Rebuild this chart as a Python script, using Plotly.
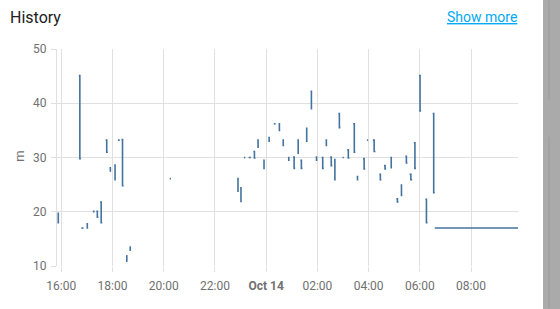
import plotly.graph_objects as go

# ---- data ----
seg_start = [
    "2023-10-13 15:51", "2023-10-13 16:41", "2023-10-13 16:47", "2023-10-13 16:59",
    "2023-10-13 17:14", "2023-10-13 17:22", "2023-10-13 17:31", "2023-10-13 17:44",
    "2023-10-13 17:53", "2023-10-13 18:04", "2023-10-13 18:13", "2023-10-13 18:21",
    "2023-10-13 18:32", "2023-10-13 18:40", "2023-10-13 20:14", "2023-10-13 22:52",
    "2023-10-13 22:59", "2023-10-13 23:08", "2023-10-13 23:19", "2023-10-13 23:30",
    "2023-10-13 23:39", "2023-10-13 23:53", "2023-10-14 00:05", "2023-10-14 00:18",
    "2023-10-14 00:29", "2023-10-14 00:38", "2023-10-14 00:51", "2023-10-14 01:03",
    "2023-10-14 01:13", "2023-10-14 01:20", "2023-10-14 01:33", "2023-10-14 01:44",
    "2023-10-14 01:56", "2023-10-14 02:10", "2023-10-14 02:19", "2023-10-14 02:30",
    "2023-10-14 02:39", "2023-10-14 02:49", "2023-10-14 02:59", "2023-10-14 03:10",
    "2023-10-14 03:24", "2023-10-14 03:32", "2023-10-14 03:47", "2023-10-14 03:56",
    "2023-10-14 04:10", "2023-10-14 04:25", "2023-10-14 04:36", "2023-10-14 04:51",
    "2023-10-14 05:05", "2023-10-14 05:15", "2023-10-14 05:26", "2023-10-14 05:36",
    "2023-10-14 05:46", "2023-10-14 05:58", "2023-10-14 06:13", "2023-10-14 06:30",
    "2023-10-14 06:35",
]
seg_end = [
    "2023-10-13 15:55", "2023-10-13 16:46", "2023-10-13 16:52", "2023-10-13 17:03",
    "2023-10-13 17:18", "2023-10-13 17:27", "2023-10-13 17:36", "2023-10-13 17:49",
    "2023-10-13 17:57", "2023-10-13 18:08", "2023-10-13 18:17", "2023-10-13 18:26",
    "2023-10-13 18:35", "2023-10-13 18:43", "2023-10-13 20:17", "2023-10-13 22:56",
    "2023-10-13 23:03", "2023-10-13 23:11", "2023-10-13 23:24", "2023-10-13 23:35",
    "2023-10-13 23:43", "2023-10-13 23:57", "2023-10-14 00:09", "2023-10-14 00:22",
    "2023-10-14 00:33", "2023-10-14 00:42", "2023-10-14 00:55", "2023-10-14 01:08",
    "2023-10-14 01:17", "2023-10-14 01:25", "2023-10-14 01:37", "2023-10-14 01:48",
    "2023-10-14 02:00", "2023-10-14 02:15", "2023-10-14 02:23", "2023-10-14 02:35",
    "2023-10-14 02:43", "2023-10-14 02:54", "2023-10-14 03:02", "2023-10-14 03:15",
    "2023-10-14 03:29", "2023-10-14 03:36", "2023-10-14 03:52", "2023-10-14 03:59",
    "2023-10-14 04:16", "2023-10-14 04:30", "2023-10-14 04:41", "2023-10-14 04:55",
    "2023-10-14 05:10", "2023-10-14 05:19", "2023-10-14 05:31", "2023-10-14 05:42",
    "2023-10-14 05:51", "2023-10-14 06:03", "2023-10-14 06:18", "2023-10-14 06:35",
    "2023-10-14 09:50",
]
seg_from = [
    19.7, 45.1, 17.0, 17.8, 20.1, 20.1, 21.8, 33.2, 28.1, 28.6, 33.2, 33.3,
    11.9, 13.5, 26.1, 26.1, 24.4, 30.0, 30.0, 31.1, 33.2, 29.5, 33.7, 36.2,
    36.2, 33.2, 30.0, 30.1, 33.2, 29.5, 35.4, 42.2, 30.1, 30.0, 33.2, 30.1,
    29.6, 38.1, 30.0, 31.4, 36.2, 26.5, 29.8, 33.2, 33.2, 26.9, 28.5, 30.0,
    22.4, 24.9, 30.2, 26.9, 32.7, 45.1, 22.3, 38.1, 17.0,
]
seg_to = [
    18.0, 29.8, 17.0, 17.0, 20.0, 19.0, 18.0, 31.0, 27.5, 25.9, 33.2, 24.8,
    10.9, 12.9, 26.1, 23.8, 21.9, 30.0, 30.0, 29.9, 31.9, 28.0, 33.0, 36.2,
    35.0, 32.2, 29.5, 28.0, 30.8, 28.0, 33.0, 39.0, 29.5, 28.0, 32.2, 28.5,
    25.9, 35.5, 30.0, 29.9, 31.0, 25.9, 27.9, 33.2, 31.1, 25.9, 27.9, 28.1,
    21.8, 23.0, 29.0, 25.9, 28.0, 38.6, 18.0, 23.5, 17.0,
]

tick_vals = ["2023-10-13 16:00", "2023-10-13 18:00", "2023-10-13 20:00",
             "2023-10-13 22:00", "2023-10-14 00:00", "2023-10-14 02:00",
             "2023-10-14 04:00", "2023-10-14 06:00", "2023-10-14 08:00"]
tick_text = ["16:00", "18:00", "20:00", "22:00", "<b>Oct 14</b>",
             "02:00", "04:00", "06:00", "08:00"]
x_range = ["2023-10-13 15:50", "2023-10-14 09:50"]
y_range = [10, 50]

# ---- build stepped path with gaps ----
xs, ys = [], []
for s, e, a, b in zip(seg_start, seg_end, seg_from, seg_to):
    xs += [s, e, None]
    ys += [a, b, None]

fig = go.Figure()
fig.add_trace(go.Scatter(
    x=xs, y=ys, mode="lines", line=dict(color="#44739e", width=1.6, shape="hvh"),
    connectgaps=False, hoverinfo="skip", showlegend=False,
))

W, H = 560, 309
L, R, T, B = 57, 42, 49, 42.5
pw, ph = W - L - R, H - T - B

def px(x):
    return (x - L) / pw

def py(y):
    return (H - B - y) / ph

grid = "#e0e0e0"
tickc = "#707070"
fig.update_layout(
    width=W, height=H, margin=dict(l=L, r=R, t=T, b=B),
    paper_bgcolor="white", plot_bgcolor="white",
    font=dict(family="Roboto", size=12, color=tickc),
    xaxis=dict(range=x_range, tickvals=tick_vals, ticktext=tick_text,
               showgrid=True, gridcolor=grid, gridwidth=1, ticks="outside",
               ticklen=5, tickcolor=grid, zeroline=False, showline=False,
               ticklabelstandoff=4,
               tickfont=dict(size=12, color=tickc)),
    yaxis=dict(range=y_range, dtick=10, showgrid=True, gridcolor=grid,
               ticks="outside", ticklen=5, tickcolor=grid, zeroline=False,
               showline=True, linecolor=grid, linewidth=1,
               ticklabelstandoff=2,
               tickfont=dict(size=12, color=tickc)),
    annotations=[
        dict(text="History", xref="paper", yref="paper", x=px(8), y=py(17),
             xanchor="left", yanchor="middle", showarrow=False,
             font=dict(family="Roboto", size=16, color="#212121")),
        dict(text="<u>Show more</u>", xref="paper", yref="paper", x=px(519), y=py(17),
             xanchor="right", yanchor="middle", showarrow=False,
             font=dict(family="Roboto", size=14, color="#03a9f4")),
        dict(text="m", xref="paper", yref="paper", x=px(20), y=py(157),
             xanchor="center", yanchor="middle", showarrow=False, textangle=-90,
             font=dict(family="Roboto", size=13, color=tickc)),
    ],
    shapes=[
        dict(type="rect", xref="paper", yref="paper", x0=px(543), x1=px(561),
             y0=py(0), y1=py(310), fillcolor="#aaaaaa", line=dict(width=0), layer="above"),
        dict(type="line", xref="paper", yref="paper", x0=px(549), x1=px(549),
             y0=py(0), y1=py(100), line=dict(color="#9a9a9a", width=1)),
        dict(type="line", xref="paper", yref="paper", x0=px(549), x1=px(549),
             y0=py(137), y1=py(309), line=dict(color="#9a9a9a", width=1)),
    ],
)

fig.write_html("out.html")
